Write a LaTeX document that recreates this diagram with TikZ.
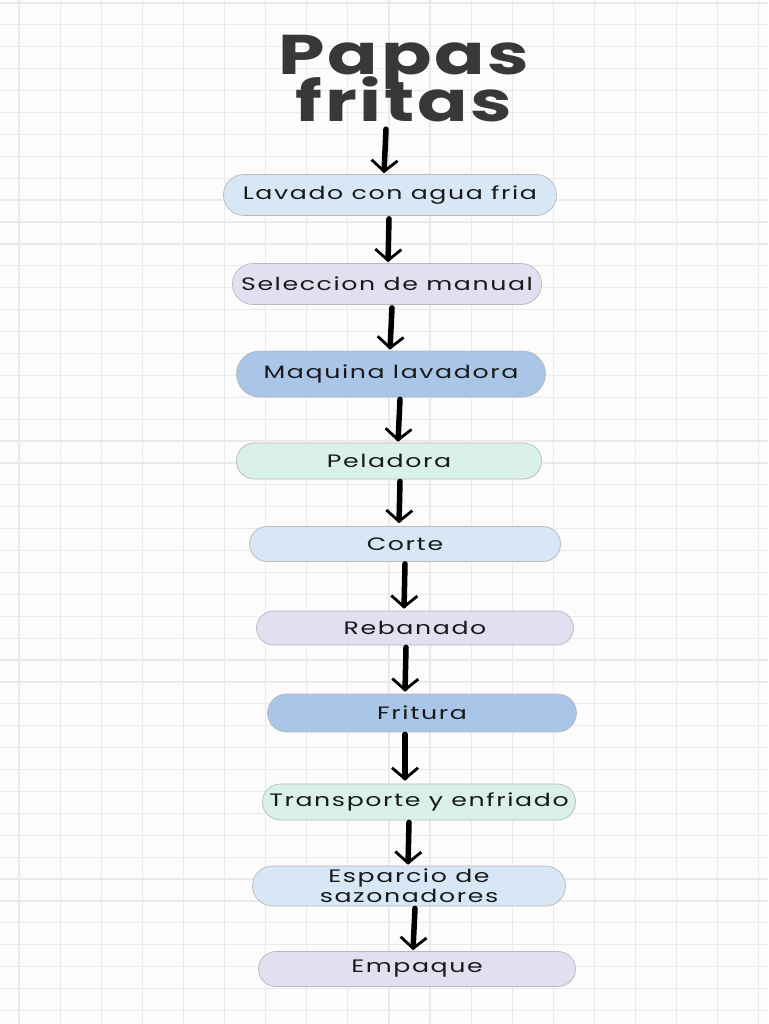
\documentclass[tikz,border=0pt]{standalone}
\usepackage{fontspec}
\usepackage{xcolor}
\usetikzlibrary{shapes.misc,arrows.meta,calc}
\setmainfont{Poppins}
\newfontfamily\stepfont[FakeStretch=1.4,LetterSpace=9]{Poppins}
\newfontfamily\titlefont[FakeStretch=1.33,LetterSpace=5]{Poppins}

\definecolor{paper}{HTML}{FCFCFC}
\definecolor{gridline}{HTML}{EAEAEA}
\definecolor{inkgray}{HTML}{383838}
\definecolor{skyfill}{HTML}{D7E7F6}
\definecolor{lilacfill}{HTML}{E3DEF0}
\definecolor{bluefill}{HTML}{A9C5E7}
\definecolor{mintfill}{HTML}{DAF1EA}

\tikzset{
    pill/.style={draw=gray!55,line width=0.7pt,rounded rectangle,inner sep=1pt,
        minimum width=#1,font=\stepfont\fontsize{18}{20}\selectfont,text=black!90},
    heading/.style={font={\titlefont\bfseries\fontsize{56}{47}\selectfont\lineskiplimit=-60pt},
        text=inkgray,inner sep=0pt,anchor=north,align=center},
    flow/.style={draw=black,line width=5.5pt,line cap=round,
        -{Straight Barb[length=11pt,width=26pt,line width=2.8pt]}}
}

\begin{document}
\begin{tikzpicture}[x=1pt,y=-1pt]
    % paper and grid
    \fill[paper] (0,0) rectangle (768,1024);
    \useasboundingbox (0,0) rectangle (768,1024);
    \foreach \gx in {19,60.1,...,768}
        \draw[gridline,line width=1.2pt] (\gx,0) -- (\gx,1024);
    \foreach \gy in {3,24.9,...,1024}
        \draw[gridline,line width=1.2pt] (0,\gy) -- (768,\gy);

    % title
    \node[heading] (title) at (404,35) {Papas\\fritas};

    % steps
    \node[pill=335pt,fill=skyfill,minimum height=41pt] (lavado) at (390,195) {Lavado con agua fria};
    \node[pill=311pt,fill=lilacfill,minimum height=41pt] (seleccion) at (387,284) {Seleccion de manual};
    \node[pill=311pt,fill=bluefill,minimum height=46pt] (maquina) at (391,374) {Maquina lavadora};
    \node[pill=307pt,fill=mintfill,minimum height=36pt] (peladora) at (389,461) {Peladora};
    \node[pill=313pt,fill=skyfill,minimum height=35pt] (corte) at (405,544) {Corte};
    \node[pill=319pt,fill=lilacfill,minimum height=34pt] (rebanado) at (415,628) {Rebanado};
    \node[pill=311pt,fill=bluefill,minimum height=38pt] (fritura) at (422,713) {Fritura};
    \node[pill=315pt,fill=mintfill,minimum height=36pt] (transporte) at (419,802) {Transporte y enfriado};
    \node[pill=315pt,fill=skyfill,minimum height=40pt,align=center] (esparcio) at (409,886) {Esparcio de\\sazonadores};
    \node[pill=319pt,fill=lilacfill,minimum height=35pt] (empaque) at (417,969) {Empaque};

    % arrows
    \draw[flow] ([xshift=-18pt,yshift=-7pt]title.south) -- ([xshift=-6pt,yshift=1pt]lavado.north);
    \draw[flow] ([xshift=-1pt,yshift=-3pt]lavado.south) -- ([xshift=1pt,yshift=1pt]seleccion.north);
    \draw[flow] ([xshift=5pt,yshift=-3pt]seleccion.south) -- ([xshift=-1pt,yshift=1pt]maquina.north);
    \draw[flow] ([xshift=9pt,yshift=-2pt]maquina.south) -- ([xshift=9pt,yshift=1pt]peladora.north);
    \draw[flow] ([xshift=11pt,yshift=-2pt]peladora.south) -- ([xshift=-6pt,yshift=3pt]corte.north);
    \draw[flow] ([yshift=-2pt]corte.south) -- ([xshift=-11pt,yshift=2pt]rebanado.north);
    \draw[flow] ([xshift=-9pt,yshift=-2pt]rebanado.south) -- ([xshift=-17pt,yshift=2pt]fritura.north);
    \draw[flow] ([xshift=-17pt,yshift=-2pt]fritura.south) -- ([xshift=-14pt,yshift=3pt]transporte.north);
    \draw[flow] ([xshift=-10pt,yshift=-2pt]transporte.south) -- ([xshift=-1pt,yshift=1pt]esparcio.north);
    \draw[flow] ([xshift=6pt,yshift=-2pt]esparcio.south) -- ([xshift=-4pt,yshift=1pt]empaque.north);
\end{tikzpicture}
\end{document}
